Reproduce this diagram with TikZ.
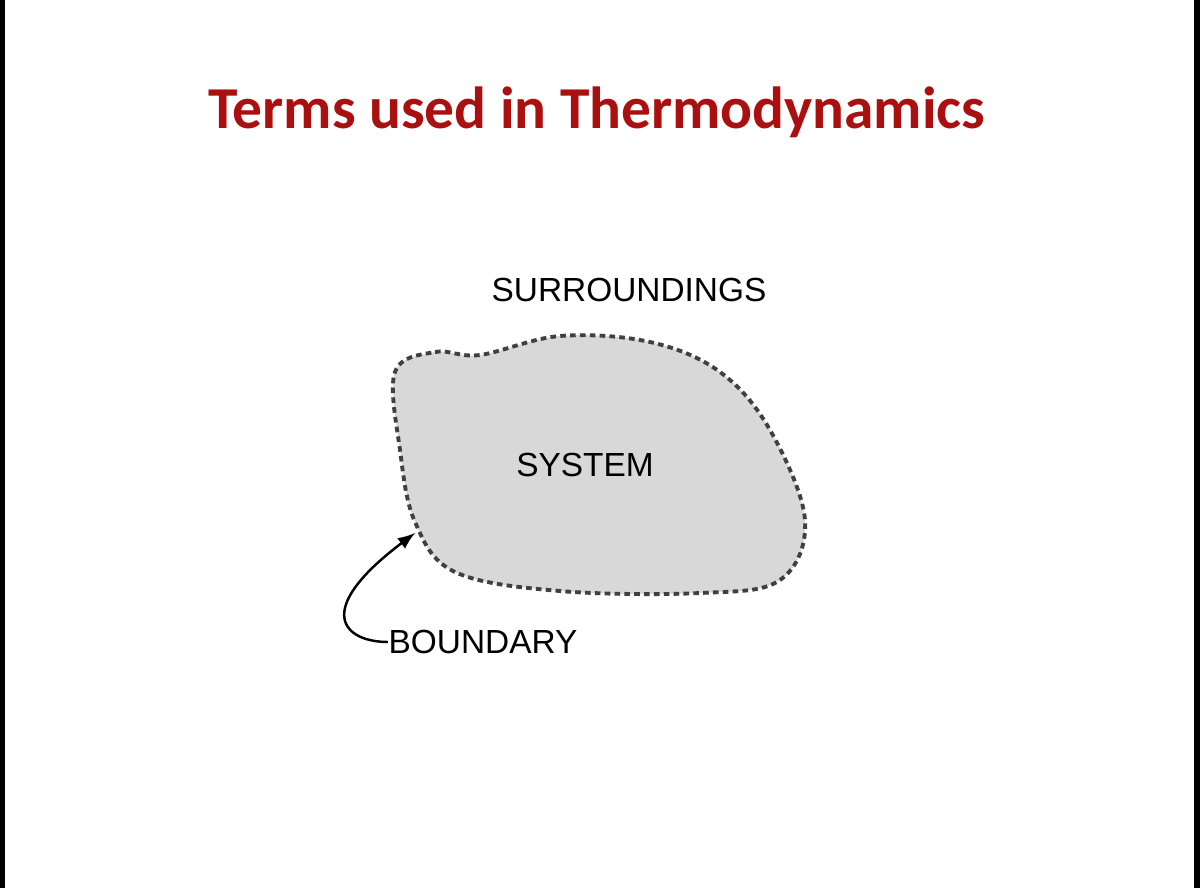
\documentclass[tikz,border=0pt]{standalone}
\usepackage{fontspec}
\setmainfont{Liberation Sans}
\newfontfamily\titlefont{Carlito}
\definecolor{titlered}{RGB}{170,16,16}
\definecolor{sysgray}{RGB}{216,216,216}
\begin{document}
\begin{tikzpicture}[x=0.01cm,y=-0.01cm,
  lbl/.style={font=\fontsize{9.5pt}{11pt}\selectfont,inner sep=0pt},
  >=latex]
\fill[black] (0,0) rectangle (1200,888);
\fill[white] (5,0) rectangle (1194,888);
\useasboundingbox (0,0) rectangle (1200,888);
\node(title) at (597,112)[font=\titlefont\bfseries\fontsize{16.9pt}{20pt}\selectfont,text=titlered] {Terms used in Thermodynamics};

% system region with dashed boundary
\draw[fill=sysgray,draw=black!75,dash pattern=on 1.6pt off 1.2pt,line width=1.1pt]
  plot[smooth cycle,tension=0.6] coordinates {
   (395,372) (435,352) (480,355) (560,336) (650,342) (720,372) (770,430)
   (805,520) (780,580) (700,593) (560,591) (455,572) (415,522) (400,450)};
\node(surr) at (629,290)[lbl] {SURROUNDINGS};
\node(sys) at (585,465)[lbl] {SYSTEM};
\node(bound) at (483,642)[lbl] {BOUNDARY};
\coordinate(tip) at (415,533);

\draw[->,line width=0.7pt] (bound.west) .. controls (345,642) and (310,612) .. (tip);
\end{tikzpicture}
\end{document}
